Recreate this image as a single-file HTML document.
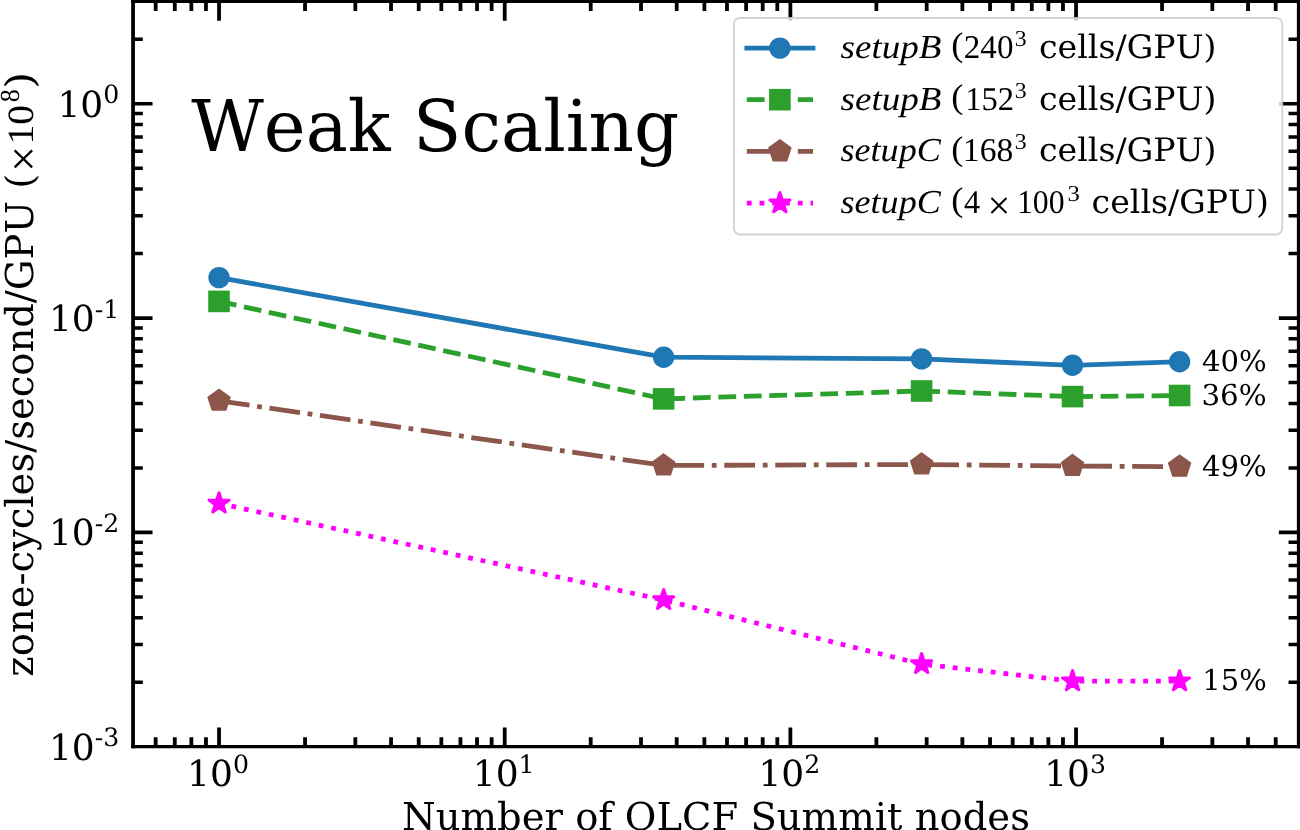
<!DOCTYPE html>
<html lang="en"><head><meta charset="utf-8"><title>Weak Scaling</title>
<style>html,body{margin:0;padding:0;background:#fff}body{width:1300px;height:830px;overflow:hidden}svg{display:block}text{font-family:"DejaVu Serif","Liberation Serif",serif;fill:#000;font-kerning:none;font-variant-ligatures:none;font-feature-settings:"kern" 0,"liga" 0,"clig" 0;text-rendering:geometricPrecision}text.m,tspan.m{font-family:"Liberation Serif","DejaVu Serif",serif}text.mi{font-family:"Liberation Serif","DejaVu Serif",serif;font-style:italic}</style></head><body>
<svg width="1300" height="830" viewBox="0 0 1300 830">
<rect x="0" y="0" width="1300" height="830" fill="#fff"/>
<g id="series">
<polyline points="219.04,277.60 663.63,357.20 921.61,358.90 1072.53,365.30 1179.60,361.80" fill="none" stroke="#1f77b4" stroke-width="4.80" stroke-linejoin="round" stroke-linecap="square"/>
<circle cx="219.04" cy="277.60" r="9.50" fill="#1f77b4" stroke="#1f77b4" stroke-width="2.40"/>
<circle cx="663.63" cy="357.20" r="9.50" fill="#1f77b4" stroke="#1f77b4" stroke-width="2.40"/>
<circle cx="921.61" cy="358.90" r="9.50" fill="#1f77b4" stroke="#1f77b4" stroke-width="2.40"/>
<circle cx="1072.53" cy="365.30" r="9.50" fill="#1f77b4" stroke="#1f77b4" stroke-width="2.40"/>
<circle cx="1179.60" cy="361.80" r="9.50" fill="#1f77b4" stroke="#1f77b4" stroke-width="2.40"/>
<polyline points="219.04,301.40 663.63,398.90 921.61,391.00 1072.53,396.60 1179.60,395.50" fill="none" stroke="#2ca02c" stroke-width="4.80" stroke-linejoin="round" stroke-dasharray="17.799 7.697"/>
<rect x="209.44" y="291.80" width="19.20" height="19.20" fill="#2ca02c" stroke="#2ca02c" stroke-width="2.40" stroke-linejoin="miter"/>
<rect x="654.03" y="389.30" width="19.20" height="19.20" fill="#2ca02c" stroke="#2ca02c" stroke-width="2.40" stroke-linejoin="miter"/>
<rect x="912.01" y="381.40" width="19.20" height="19.20" fill="#2ca02c" stroke="#2ca02c" stroke-width="2.40" stroke-linejoin="miter"/>
<rect x="1062.93" y="387.00" width="19.20" height="19.20" fill="#2ca02c" stroke="#2ca02c" stroke-width="2.40" stroke-linejoin="miter"/>
<rect x="1170.00" y="385.90" width="19.20" height="19.20" fill="#2ca02c" stroke="#2ca02c" stroke-width="2.40" stroke-linejoin="miter"/>
<polyline points="219.04,400.80 663.63,465.50 921.61,464.50 1072.53,466.00 1179.60,466.70" fill="none" stroke="#8c564b" stroke-width="4.80" stroke-linejoin="round" stroke-dasharray="30.788 7.697 4.811 7.697"/>
<polygon points="219.04,389.90 229.41,397.43 225.45,409.62 212.63,409.62 208.67,397.43" fill="#8c564b" stroke="#8c564b" stroke-width="2.40" stroke-linejoin="miter"/>
<polygon points="663.63,454.60 674.00,462.13 670.04,474.32 657.22,474.32 653.26,462.13" fill="#8c564b" stroke="#8c564b" stroke-width="2.40" stroke-linejoin="miter"/>
<polygon points="921.61,453.60 931.98,461.13 928.02,473.32 915.21,473.32 911.25,461.13" fill="#8c564b" stroke="#8c564b" stroke-width="2.40" stroke-linejoin="miter"/>
<polygon points="1072.53,455.10 1082.89,462.63 1078.93,474.82 1066.12,474.82 1062.16,462.63" fill="#8c564b" stroke="#8c564b" stroke-width="2.40" stroke-linejoin="miter"/>
<polygon points="1179.60,455.80 1189.97,463.33 1186.01,475.52 1173.19,475.52 1169.23,463.33" fill="#8c564b" stroke="#8c564b" stroke-width="2.40" stroke-linejoin="miter"/>
<polyline points="219.04,503.40 663.63,600.00 921.61,664.10 1072.53,681.20 1179.60,681.20" fill="none" stroke="#ff00ff" stroke-width="4.80" stroke-linejoin="round" stroke-dasharray="4.811 7.937"/>
<polygon points="219.04,491.90 221.62,499.85 229.98,499.85 223.22,504.76 225.80,512.70 219.04,507.79 212.28,512.70 214.86,504.76 208.10,499.85 216.46,499.85" fill="#ff00ff" stroke="#ff00ff" stroke-width="2.40" stroke-linejoin="bevel"/>
<polygon points="663.63,588.50 666.21,596.45 674.57,596.45 667.81,601.36 670.39,609.30 663.63,604.39 656.87,609.30 659.45,601.36 652.69,596.45 661.05,596.45" fill="#ff00ff" stroke="#ff00ff" stroke-width="2.40" stroke-linejoin="bevel"/>
<polygon points="921.61,652.60 924.20,660.55 932.55,660.55 925.79,665.46 928.37,673.40 921.61,668.49 914.86,673.40 917.44,665.46 910.68,660.55 919.03,660.55" fill="#ff00ff" stroke="#ff00ff" stroke-width="2.40" stroke-linejoin="bevel"/>
<polygon points="1072.53,669.70 1075.11,677.65 1083.46,677.65 1076.70,682.56 1079.29,690.50 1072.53,685.59 1065.77,690.50 1068.35,682.56 1061.59,677.65 1069.94,677.65" fill="#ff00ff" stroke="#ff00ff" stroke-width="2.40" stroke-linejoin="bevel"/>
<polygon points="1179.60,669.70 1182.18,677.65 1190.54,677.65 1183.78,682.56 1186.36,690.50 1179.60,685.59 1172.84,690.50 1175.42,682.56 1168.66,677.65 1177.02,677.65" fill="#ff00ff" stroke="#ff00ff" stroke-width="2.40" stroke-linejoin="bevel"/>
</g>
<g id="ticks" stroke="#000" fill="none">
<path stroke-width="3.8" d="M155.66 746.75v-9.60M155.66 1.50v9.60"/>
<path stroke-width="3.8" d="M174.79 746.75v-9.60M174.79 1.50v9.60"/>
<path stroke-width="3.8" d="M191.36 746.75v-9.60M191.36 1.50v9.60"/>
<path stroke-width="3.8" d="M205.97 746.75v-9.60M205.97 1.50v9.60"/>
<path stroke-width="3.8" d="M219.04 746.75v-19.30M219.04 1.50v19.30"/>
<path stroke-width="3.8" d="M305.04 746.75v-9.60M305.04 1.50v9.60"/>
<path stroke-width="3.8" d="M355.34 746.75v-9.60M355.34 1.50v9.60"/>
<path stroke-width="3.8" d="M391.03 746.75v-9.60M391.03 1.50v9.60"/>
<path stroke-width="3.8" d="M418.71 746.75v-9.60M418.71 1.50v9.60"/>
<path stroke-width="3.8" d="M441.33 746.75v-9.60M441.33 1.50v9.60"/>
<path stroke-width="3.8" d="M460.46 746.75v-9.60M460.46 1.50v9.60"/>
<path stroke-width="3.8" d="M477.03 746.75v-9.60M477.03 1.50v9.60"/>
<path stroke-width="3.8" d="M491.64 746.75v-9.60M491.64 1.50v9.60"/>
<path stroke-width="3.8" d="M504.71 746.75v-19.30M504.71 1.50v19.30"/>
<path stroke-width="3.8" d="M590.71 746.75v-9.60M590.71 1.50v9.60"/>
<path stroke-width="3.8" d="M641.01 746.75v-9.60M641.01 1.50v9.60"/>
<path stroke-width="3.8" d="M676.70 746.75v-9.60M676.70 1.50v9.60"/>
<path stroke-width="3.8" d="M704.38 746.75v-9.60M704.38 1.50v9.60"/>
<path stroke-width="3.8" d="M727.00 746.75v-9.60M727.00 1.50v9.60"/>
<path stroke-width="3.8" d="M746.13 746.75v-9.60M746.13 1.50v9.60"/>
<path stroke-width="3.8" d="M762.70 746.75v-9.60M762.70 1.50v9.60"/>
<path stroke-width="3.8" d="M777.31 746.75v-9.60M777.31 1.50v9.60"/>
<path stroke-width="3.8" d="M790.38 746.75v-19.30M790.38 1.50v19.30"/>
<path stroke-width="3.8" d="M876.38 746.75v-9.60M876.38 1.50v9.60"/>
<path stroke-width="3.8" d="M926.68 746.75v-9.60M926.68 1.50v9.60"/>
<path stroke-width="3.8" d="M962.37 746.75v-9.60M962.37 1.50v9.60"/>
<path stroke-width="3.8" d="M990.05 746.75v-9.60M990.05 1.50v9.60"/>
<path stroke-width="3.8" d="M1012.67 746.75v-9.60M1012.67 1.50v9.60"/>
<path stroke-width="3.8" d="M1031.80 746.75v-9.60M1031.80 1.50v9.60"/>
<path stroke-width="3.8" d="M1048.37 746.75v-9.60M1048.37 1.50v9.60"/>
<path stroke-width="3.8" d="M1062.98 746.75v-9.60M1062.98 1.50v9.60"/>
<path stroke-width="3.8" d="M1076.05 746.75v-19.30M1076.05 1.50v19.30"/>
<path stroke-width="3.8" d="M1162.05 746.75v-9.60M1162.05 1.50v9.60"/>
<path stroke-width="3.8" d="M1212.35 746.75v-9.60M1212.35 1.50v9.60"/>
<path stroke-width="3.8" d="M1248.04 746.75v-9.60M1248.04 1.50v9.60"/>
<path stroke-width="3.8" d="M1275.72 746.75v-9.60M1275.72 1.50v9.60"/>
<path stroke-width="3.50" d="M133.04 682.23h9.80M1298.34 682.23h-9.80"/>
<path stroke-width="3.50" d="M133.04 644.49h9.80M1298.34 644.49h-9.80"/>
<path stroke-width="3.50" d="M133.04 617.71h9.80M1298.34 617.71h-9.80"/>
<path stroke-width="3.50" d="M133.04 596.94h9.80M1298.34 596.94h-9.80"/>
<path stroke-width="3.50" d="M133.04 579.97h9.80M1298.34 579.97h-9.80"/>
<path stroke-width="3.50" d="M133.04 565.62h9.80M1298.34 565.62h-9.80"/>
<path stroke-width="3.50" d="M133.04 553.19h9.80M1298.34 553.19h-9.80"/>
<path stroke-width="3.50" d="M133.04 542.23h9.80M1298.34 542.23h-9.80"/>
<path stroke-width="3.70" d="M133.04 532.42h19.50M1298.34 532.42h-19.50"/>
<path stroke-width="3.50" d="M133.04 467.90h9.80M1298.34 467.90h-9.80"/>
<path stroke-width="3.50" d="M133.04 430.16h9.80M1298.34 430.16h-9.80"/>
<path stroke-width="3.50" d="M133.04 403.38h9.80M1298.34 403.38h-9.80"/>
<path stroke-width="3.50" d="M133.04 382.61h9.80M1298.34 382.61h-9.80"/>
<path stroke-width="3.50" d="M133.04 365.64h9.80M1298.34 365.64h-9.80"/>
<path stroke-width="3.50" d="M133.04 351.29h9.80M1298.34 351.29h-9.80"/>
<path stroke-width="3.50" d="M133.04 338.86h9.80M1298.34 338.86h-9.80"/>
<path stroke-width="3.50" d="M133.04 327.90h9.80M1298.34 327.90h-9.80"/>
<path stroke-width="3.70" d="M133.04 318.09h19.50M1298.34 318.09h-19.50"/>
<path stroke-width="3.50" d="M133.04 253.57h9.80M1298.34 253.57h-9.80"/>
<path stroke-width="3.50" d="M133.04 215.83h9.80M1298.34 215.83h-9.80"/>
<path stroke-width="3.50" d="M133.04 189.05h9.80M1298.34 189.05h-9.80"/>
<path stroke-width="3.50" d="M133.04 168.28h9.80M1298.34 168.28h-9.80"/>
<path stroke-width="3.50" d="M133.04 151.31h9.80M1298.34 151.31h-9.80"/>
<path stroke-width="3.50" d="M133.04 136.96h9.80M1298.34 136.96h-9.80"/>
<path stroke-width="3.50" d="M133.04 124.53h9.80M1298.34 124.53h-9.80"/>
<path stroke-width="3.50" d="M133.04 113.57h9.80M1298.34 113.57h-9.80"/>
<path stroke-width="3.70" d="M133.04 103.76h19.50M1298.34 103.76h-19.50"/>
<path stroke-width="3.50" d="M133.04 39.24h9.80M1298.34 39.24h-9.80"/>
</g>
<g id="spines" stroke="#000" fill="none" stroke-linecap="butt">
<path stroke-width="3.76" d="M133.05 -2V748.35M1298.75 -2V748.35"/>
<path stroke-width="3.3" d="M131.17 1.45H1301M131.17 746.7H1301"/>
</g>
<text x="218.04" y="786.00" font-size="36.0" text-anchor="middle">10<tspan font-size="25.2" dy="-13.10">0</tspan></text>
<text x="503.71" y="786.00" font-size="36.0" text-anchor="middle">10<tspan font-size="25.2" dy="-13.10">1</tspan></text>
<text x="789.38" y="786.00" font-size="36.0" text-anchor="middle">10<tspan font-size="25.2" dy="-13.10">2</tspan></text>
<text x="1075.05" y="786.00" font-size="36.0" text-anchor="middle">10<tspan font-size="25.2" dy="-13.10">3</tspan></text>
<text x="119.30" y="116.51" font-size="36.0" text-anchor="end">10<tspan font-size="25.2" dy="-13.10">0</tspan></text>
<text x="119.30" y="330.84" font-size="36.0" text-anchor="end">10<tspan font-size="25.2" dy="-13.10">-1</tspan></text>
<text x="119.30" y="545.17" font-size="36.0" text-anchor="end">10<tspan font-size="25.2" dy="-13.10">-2</tspan></text>
<text x="119.30" y="759.50" font-size="36.0" text-anchor="end">10<tspan font-size="25.2" dy="-13.10">-3</tspan></text>
<text class="d" x="402.02" y="829.60" font-size="38.40" textLength="627.91" lengthAdjust="spacingAndGlyphs">Number of OLCF Summit nodes</text>
<g transform="translate(32.7,675.1) rotate(-90)">
<text class="d" x="-1.54" y="0.00" font-size="38.40" textLength="502.85" lengthAdjust="spacingAndGlyphs">zone-cycles/second/GPU (</text>
<text class="m" x="503.45" y="6.41" font-size="47.00" textLength="25.76" lengthAdjust="spacingAndGlyphs">×</text>
<text class="m" x="530.64" y="0.00" font-size="37.00" textLength="39.54" lengthAdjust="spacingAndGlyphs">10</text>
<text class="m" x="572.83" y="-14.20" font-size="27.50" textLength="12.94" lengthAdjust="spacingAndGlyphs">8</text>
<text class="d" x="586.44" y="0.00" font-size="38.40" textLength="17.07" lengthAdjust="spacingAndGlyphs">)</text>
</g>
<text class="d" x="191.24" y="151.40" font-size="71.50" textLength="487.97" lengthAdjust="spacingAndGlyphs">Weak Scaling</text>
<text class="d" x="1201.93" y="370.90" font-size="28.80" textLength="64.78" lengthAdjust="spacingAndGlyphs">40%</text>
<text class="d" x="1201.40" y="404.90" font-size="28.80" textLength="65.33" lengthAdjust="spacingAndGlyphs">36%</text>
<text class="d" x="1201.93" y="476.00" font-size="28.80" textLength="64.78" lengthAdjust="spacingAndGlyphs">49%</text>
<text class="d" x="1202.25" y="690.00" font-size="28.80" textLength="64.45" lengthAdjust="spacingAndGlyphs">15%</text>
<rect x="733.90" y="18.00" width="548.30" height="216.50" rx="6" ry="6" fill="#fff" fill-opacity="0.8" stroke="#ccc" stroke-opacity="0.85" stroke-width="1.9"/>
<polyline points="746.80,48.10 813.00,48.10" fill="none" stroke="#1f77b4" stroke-width="4.80" stroke-linejoin="round" stroke-linecap="square"/>
<circle cx="779.90" cy="48.10" r="9.50" fill="#1f77b4" stroke="#1f77b4" stroke-width="2.40"/>
<text class="mi" x="840.54" y="57.90" font-size="33.50" textLength="100.87" lengthAdjust="spacingAndGlyphs">setupB</text>
<text class="m" x="951.26" y="56.10" font-size="34.10" textLength="12.14" lengthAdjust="spacingAndGlyphs">(</text>
<text class="m" x="963.81" y="57.90" font-size="33.20" textLength="49.63" lengthAdjust="spacingAndGlyphs">240</text>
<text class="m" x="1014.67" y="45.90" font-size="22.80" textLength="11.88" lengthAdjust="spacingAndGlyphs">3</text>
<text class="d" x="1038.93" y="57.90" font-size="32.40" textLength="177.57" lengthAdjust="spacingAndGlyphs">cells/GPU)</text>
<polyline points="746.80,99.70 813.00,99.70" fill="none" stroke="#2ca02c" stroke-width="4.80" stroke-linejoin="round" stroke-dasharray="17.799 7.697"/>
<rect x="770.30" y="90.10" width="19.20" height="19.20" fill="#2ca02c" stroke="#2ca02c" stroke-width="2.40" stroke-linejoin="miter"/>
<text class="mi" x="840.54" y="109.60" font-size="33.50" textLength="100.87" lengthAdjust="spacingAndGlyphs">setupB</text>
<text class="m" x="951.26" y="107.80" font-size="34.10" textLength="12.14" lengthAdjust="spacingAndGlyphs">(</text>
<text class="m" x="965.15" y="109.60" font-size="33.20" textLength="48.84" lengthAdjust="spacingAndGlyphs">152</text>
<text class="m" x="1014.67" y="97.60" font-size="22.80" textLength="11.88" lengthAdjust="spacingAndGlyphs">3</text>
<text class="d" x="1038.93" y="109.60" font-size="32.40" textLength="177.57" lengthAdjust="spacingAndGlyphs">cells/GPU)</text>
<polyline points="746.80,151.40 813.00,151.40" fill="none" stroke="#8c564b" stroke-width="4.80" stroke-linejoin="round" stroke-dasharray="30.788 7.697 4.811 7.697"/>
<polygon points="779.90,140.50 790.27,148.03 786.31,160.22 773.49,160.22 769.53,148.03" fill="#8c564b" stroke="#8c564b" stroke-width="2.40" stroke-linejoin="miter"/>
<text class="mi" x="840.55" y="161.40" font-size="33.50" textLength="100.19" lengthAdjust="spacingAndGlyphs">setupC</text>
<text class="m" x="951.26" y="159.60" font-size="34.10" textLength="12.14" lengthAdjust="spacingAndGlyphs">(</text>
<text class="m" x="962.86" y="161.40" font-size="33.20" textLength="50.40" lengthAdjust="spacingAndGlyphs">168</text>
<text class="m" x="1014.67" y="149.40" font-size="22.80" textLength="11.88" lengthAdjust="spacingAndGlyphs">3</text>
<text class="d" x="1038.93" y="161.40" font-size="32.40" textLength="177.57" lengthAdjust="spacingAndGlyphs">cells/GPU)</text>
<polyline points="746.80,203.20 813.00,203.20" fill="none" stroke="#ff00ff" stroke-width="4.80" stroke-linejoin="round" stroke-dasharray="4.811 7.937"/>
<polygon points="779.90,191.70 782.48,199.65 790.84,199.65 784.08,204.56 786.66,212.50 779.90,207.59 773.14,212.50 775.72,204.56 768.96,199.65 777.32,199.65" fill="#ff00ff" stroke="#ff00ff" stroke-width="2.40" stroke-linejoin="bevel"/>
<text class="mi" x="840.55" y="213.10" font-size="33.50" textLength="100.19" lengthAdjust="spacingAndGlyphs">setupC</text>
<text class="m" x="951.26" y="211.30" font-size="34.10" textLength="12.14" lengthAdjust="spacingAndGlyphs">(</text>
<text class="m" x="963.95" y="213.10" font-size="33.20" textLength="16.13" lengthAdjust="spacingAndGlyphs">4</text>
<text class="m" x="987.46" y="218.76" font-size="40.50" textLength="22.84" lengthAdjust="spacingAndGlyphs">×</text>
<text class="m" x="1016.97" y="213.10" font-size="33.20" textLength="47.62" lengthAdjust="spacingAndGlyphs">100</text>
<text class="m" x="1067.43" y="201.10" font-size="22.80" textLength="12.36" lengthAdjust="spacingAndGlyphs">3</text>
<text class="d" x="1091.64" y="213.10" font-size="32.40" textLength="177.26" lengthAdjust="spacingAndGlyphs">cells/GPU)</text>
</svg></body></html>
